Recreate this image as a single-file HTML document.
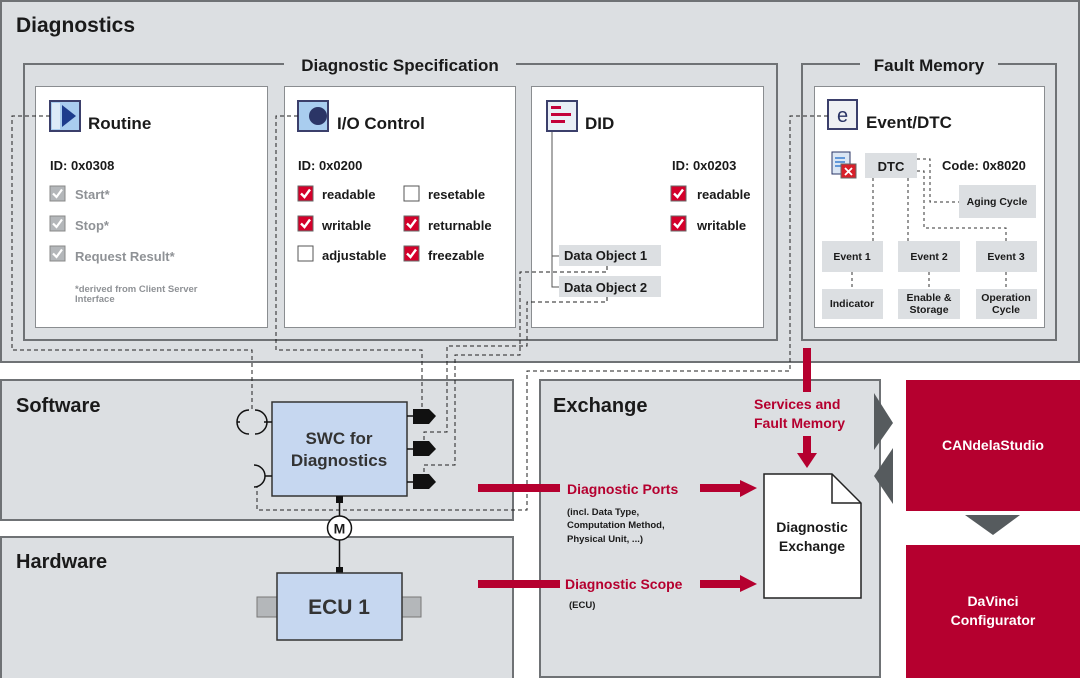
<!DOCTYPE html>
<html><head><meta charset="utf-8"><style>
html,body{margin:0;padding:0;background:#fff}
svg{display:block}
text{font-family:"Liberation Sans",sans-serif;font-weight:bold;fill:#1a1a1a}
.g{fill:#8f9296}
.r{fill:#b5002f}
.w{fill:#fff}
.d{fill:none;stroke:#222;stroke-width:1;stroke-dasharray:4,3}
.dd{fill:none;stroke:#333;stroke-width:1;stroke-dasharray:3,3}
</style></head><body>
<svg width="1080" height="678" viewBox="0 0 1080 678" xmlns="http://www.w3.org/2000/svg">
<defs>
<g id="chk"><rect x="0" y="0" width="15" height="15" fill="#d4002a" stroke="#666" stroke-width="1"/><path d="M3 7.5 L6.5 11 L12 3.5" fill="none" stroke="#fff" stroke-width="2.4"/></g>
<g id="chkg"><rect x="0" y="0" width="15" height="15" fill="#b4b7ba" stroke="#888" stroke-width="1"/><path d="M3 7.5 L6.5 11 L12 3.5" fill="none" stroke="#fff" stroke-width="2.2"/></g>
<g id="unc"><rect x="0" y="0" width="15" height="15" fill="#fff" stroke="#555" stroke-width="1"/></g>
</defs>

<!-- Diagnostics -->
<rect x="1" y="1" width="1078" height="361" fill="#dcdfe2" stroke="#6f7275" stroke-width="2"/>
<text x="16" y="32" font-size="21">Diagnostics</text>
<rect x="24" y="64" width="753" height="276" fill="none" stroke="#6f7275" stroke-width="2"/>
<rect x="284" y="56" width="232" height="18" fill="#dcdfe2"/>
<text x="400" y="71" font-size="17" text-anchor="middle">Diagnostic Specification</text>
<rect x="802" y="64" width="254" height="276" fill="none" stroke="#6f7275" stroke-width="2"/>
<rect x="860" y="56" width="138" height="18" fill="#dcdfe2"/>
<text x="929" y="71" font-size="17" text-anchor="middle">Fault Memory</text>

<!-- panels -->
<rect x="35.5" y="86.5" width="232" height="241" fill="#fff" stroke="#8a8d90"/>
<rect x="284.5" y="86.5" width="231" height="241" fill="#fff" stroke="#8a8d90"/>
<rect x="531.5" y="86.5" width="232" height="241" fill="#fff" stroke="#8a8d90"/>
<rect x="814.5" y="86.5" width="230" height="241" fill="#fff" stroke="#8a8d90"/>

<!-- Routine -->
<rect x="50" y="101" width="30" height="30" fill="#a9cdef" stroke="#3b3f6b" stroke-width="2"/>
<rect x="52" y="103" width="8" height="26" fill="#dceaf7"/>
<path d="M62 105 L76 116 L62 127 Z" fill="#1d3c8c"/>
<text x="88" y="129" font-size="17">Routine</text>
<text x="50" y="170" font-size="13">ID: 0x0308</text>
<use href="#chkg" x="50" y="186"/><text x="75" y="199" font-size="13" class="g">Start*</text>
<use href="#chkg" x="50" y="216"/><text x="75" y="230" font-size="13" class="g">Stop*</text>
<use href="#chkg" x="50" y="246"/><text x="75" y="261" font-size="13" class="g">Request Result*</text>
<text x="75" y="292" font-size="9.5" class="g">*derived from Client Server</text>
<text x="75" y="302" font-size="9.5" class="g">Interface</text>

<!-- I/O -->
<rect x="298" y="101" width="30" height="30" fill="#a9cdef" stroke="#3b3f6b" stroke-width="2"/>
<circle cx="318" cy="116" r="9" fill="#2b3566"/>
<text x="337" y="129" font-size="17">I/O Control</text>
<text x="298" y="170" font-size="13">ID: 0x0200</text>
<use href="#chk" x="298" y="186"/><text x="322" y="199" font-size="13">readable</text>
<use href="#chk" x="298" y="216"/><text x="322" y="230" font-size="13">writable</text>
<use href="#unc" x="298" y="246"/><text x="322" y="260" font-size="13">adjustable</text>
<use href="#unc" x="404" y="186"/><text x="428" y="199" font-size="13">resetable</text>
<use href="#chk" x="404" y="216"/><text x="428" y="230" font-size="13">returnable</text>
<use href="#chk" x="404" y="246"/><text x="428" y="260" font-size="13">freezable</text>

<!-- DID -->
<path d="M552 131 V287 H559 M552 256 H559" fill="none" stroke="#555" stroke-width="1"/>
<rect x="547" y="101" width="30" height="30" fill="#e9eef6" stroke="#3b3f6b" stroke-width="2"/>
<rect x="551" y="106" width="10" height="3" fill="#c4003a"/>
<rect x="551" y="113" width="20" height="3" fill="#c4003a"/>
<rect x="551" y="120" width="14" height="3" fill="#c4003a"/>
<text x="585" y="129" font-size="17">DID</text>
<text x="672" y="170" font-size="13">ID: 0x0203</text>
<use href="#chk" x="671" y="186"/><text x="697" y="199" font-size="13">readable</text>
<use href="#chk" x="671" y="216"/><text x="697" y="230" font-size="13">writable</text>
<rect x="559" y="245" width="102" height="21" fill="#dcdfe2"/>
<text x="564" y="260" font-size="13">Data Object 1</text>
<rect x="559" y="276" width="102" height="21" fill="#dcdfe2"/>
<text x="564" y="292" font-size="13">Data Object 2</text>

<!-- Event/DTC -->
<rect x="828" y="100" width="29" height="29" fill="#eef0f3" stroke="#3b3f6b" stroke-width="2"/>
<text x="842.5" y="122" font-size="20" text-anchor="middle" style="font-weight:normal;fill:#2b3566">e</text>
<text x="866" y="128" font-size="17">Event/DTC</text>
<rect x="832" y="152" width="18" height="22" fill="#dbe6f4" stroke="#2b3566"/>
<path d="M835 158h10M835 162h10M835 166h8" stroke="#3a7ed0" stroke-width="1.5"/>
<rect x="841" y="164" width="15" height="14" fill="#d8202a" stroke="#666"/>
<path d="M845 168l7 7M852 168l-7 7" stroke="#fff" stroke-width="1.8"/>
<rect x="865" y="153" width="52" height="25" fill="#dcdfe2"/>
<text x="891" y="171" font-size="13" text-anchor="middle">DTC</text>
<text x="942" y="170" font-size="13">Code: 0x8020</text>
<rect x="959" y="185" width="77" height="33" fill="#dcdfe2"/>
<text x="997" y="205" font-size="10.5" text-anchor="middle">Aging Cycle</text>
<rect x="822" y="241" width="61" height="31" fill="#dcdfe2"/>
<text x="852" y="260" font-size="10.5" text-anchor="middle">Event 1</text>
<rect x="898" y="241" width="62" height="31" fill="#dcdfe2"/>
<text x="929" y="260" font-size="10.5" text-anchor="middle">Event 2</text>
<rect x="976" y="241" width="61" height="31" fill="#dcdfe2"/>
<text x="1006" y="260" font-size="10.5" text-anchor="middle">Event 3</text>
<rect x="822" y="289" width="61" height="30" fill="#dcdfe2"/>
<text x="852" y="307" font-size="10.5" text-anchor="middle">Indicator</text>
<rect x="898" y="289" width="62" height="30" fill="#dcdfe2"/>
<text x="929" y="301" font-size="10.5" text-anchor="middle">Enable &amp;</text>
<text x="929" y="313" font-size="10.5" text-anchor="middle">Storage</text>
<rect x="976" y="289" width="61" height="30" fill="#dcdfe2"/>
<text x="1006" y="301" font-size="10.5" text-anchor="middle">Operation</text>
<text x="1006" y="313" font-size="10.5" text-anchor="middle">Cycle</text>
<path class="dd" d="M873 178V241 M908 178V241 M917 171H924V228H1006V241 M917 159H930V202H959 M852 272V289 M929 272V289 M1006 272V289"/>

<!-- Software / Hardware / Exchange -->
<rect x="1" y="380" width="512" height="140" fill="#dcdfe2" stroke="#6f7275" stroke-width="2"/>
<text x="16" y="412" font-size="20">Software</text>
<rect x="1" y="537" width="512" height="142" fill="#dcdfe2" stroke="#6f7275" stroke-width="2"/>
<text x="16" y="568" font-size="20">Hardware</text>
<rect x="540" y="380" width="340" height="297" fill="#dcdfe2" stroke="#6f7275" stroke-width="2"/>
<text x="553" y="412" font-size="20">Exchange</text>

<!-- dashed connectors -->
<path class="d" d="M50 116H12V350H252V409"/>
<path class="d" d="M298 116H276V350H422V409"/>
<path class="d" d="M607 266V272H520V355H455V465H424V473"/>
<path class="d" d="M607 297V302H527V346H447V432H424V440"/>
<path class="d" d="M828 116H790V371H527V510H257V486"/>

<!-- SWC -->
<rect x="272" y="402" width="135" height="94" fill="#c6d7f0" stroke="#333" stroke-width="1.5"/>
<text x="339" y="444" font-size="17" text-anchor="middle" style="fill:#333">SWC for</text>
<text x="339" y="466" font-size="17" text-anchor="middle" style="fill:#333">Diagnostics</text>
<path d="M249 410 A12 12 0 0 0 249 434 M255 434 A12 12 0 0 0 255 410" fill="none" stroke="#111" stroke-width="1.5"/>
<path d="M237 422H240 M264 422H272" stroke="#111" stroke-width="1.5"/>
<path d="M254 465 A11 11 0 0 1 254 487" fill="none" stroke="#111" stroke-width="1.5"/>
<path d="M265 476H272" stroke="#111" stroke-width="1.5"/>
<g fill="#111">
<path d="M407 416H413M407 449H413M407 482H413" stroke="#111" stroke-width="1.5"/>
<polygon points="413,409 429,409 436,416 429,424 413,424"/>
<polygon points="413,441 429,441 436,449 429,456 413,456"/>
<polygon points="413,474 429,474 436,482 429,489 413,489"/>
<rect x="336" y="496" width="7" height="7"/>
<rect x="336" y="567" width="7" height="7"/>
</g>
<path d="M339.5 503V516 M339.5 540V568" stroke="#111" stroke-width="1.5"/>
<circle cx="339.5" cy="528" r="12" fill="#fff" stroke="#111" stroke-width="1.5"/>
<text x="339.5" y="533.5" font-size="14" text-anchor="middle">M</text>

<!-- ECU -->
<rect x="257" y="597" width="20" height="20" fill="#b4b7ba" stroke="#777"/>
<rect x="402" y="597" width="19" height="20" fill="#b4b7ba" stroke="#777"/>
<rect x="277" y="573" width="125" height="67" fill="#c6d7f0" stroke="#333" stroke-width="1.5"/>
<text x="339" y="614" font-size="21" text-anchor="middle" style="fill:#333">ECU 1</text>

<!-- red arrows -->
<g class="r">
<rect x="478" y="484" width="82" height="8"/>
<rect x="700" y="484" width="42" height="8"/>
<polygon points="740,480 757,488 740,497"/>
<text x="567" y="494" font-size="14" class="r">Diagnostic Ports</text>
<rect x="478" y="580" width="82" height="8"/>
<rect x="700" y="580" width="42" height="8"/>
<polygon points="740,575 757,584 740,592"/>
<text x="565" y="589" font-size="14" class="r">Diagnostic Scope</text>
<rect x="803" y="348" width="8" height="44"/>
<text x="754" y="409" font-size="14" class="r">Services and</text>
<text x="754" y="428" font-size="14" class="r">Fault Memory</text>
<rect x="803" y="436" width="8" height="19"/>
<polygon points="797,453 817,453 807,468"/>
</g>
<text x="567" y="515" font-size="9.5">(incl. Data Type,</text>
<text x="567" y="528" font-size="9.5">Computation Method,</text>
<text x="567" y="542" font-size="9.5">Physical Unit, ...)</text>
<text x="569" y="608" font-size="9.5">(ECU)</text>

<!-- document -->
<path d="M764 474H832L861 503V598H764Z" fill="#fff" stroke="#222" stroke-width="1.5"/>
<path d="M832 474V503H861" fill="none" stroke="#222" stroke-width="1.5"/>
<text x="812" y="532" font-size="14" text-anchor="middle">Diagnostic</text>
<text x="812" y="551" font-size="14" text-anchor="middle">Exchange</text>

<!-- right tools -->
<polygon points="874,393 893,423 874,450" fill="#565b5e"/>
<polygon points="893,448 874,476 893,504" fill="#565b5e"/>
<rect x="906" y="380" width="174" height="131" fill="#b5002f"/>
<text x="993" y="450" font-size="14" text-anchor="middle" class="w">CANdelaStudio</text>
<polygon points="965,515 1020,515 993,535" fill="#565b5e"/>
<rect x="906" y="545" width="174" height="133" fill="#b5002f"/>
<text x="993" y="606" font-size="14" text-anchor="middle" class="w">DaVinci</text>
<text x="993" y="625" font-size="14" text-anchor="middle" class="w">Configurator</text>
</svg>
</body></html>
